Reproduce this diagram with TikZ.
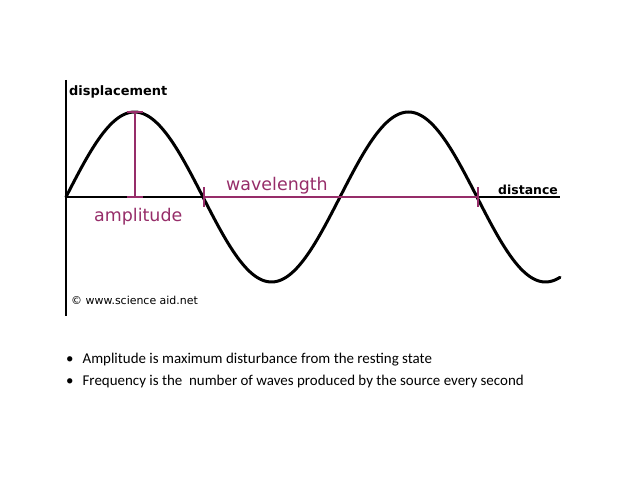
\documentclass[tikz,border=0pt]{standalone}
\usepackage{fontspec}
\setmainfont{Carlito}
\newfontfamily\lab{DejaVu Sans}
\begin{document}
\begin{tikzpicture}[x=1bp,y=-1bp,
  axis/.style={line width=2.2bp,black},
  wave/.style={line width=3bp,black},
  purp/.style={line width=2bp,color=mag},
  tick/.style={line width=2bp,color=mag},
  lbl/.style={inner sep=0,anchor=west,font=\lab}]
\definecolor{mag}{RGB}{150,45,105}
\useasboundingbox (0,0) rectangle (638,478);
\coordinate (o) at (66,197);
\coordinate (ytop) at (66,80);
\coordinate (ybot) at (66,316);
\coordinate (xend) at (560,197);
\draw[axis] (ytop) -- (ybot);
\draw[axis] (o) -- (xend);
\draw[wave,domain=0:494,samples=200,smooth,line cap=round] plot ({66+\x},{197-85*sin(1.31387*\x)});
% amplitude
\coordinate (a1) at (135,112);
\coordinate (a2) at (135,197);
\draw[purp] (a1) -- (a2);
\draw[tick] ([xshift=-8]a1) -- ([xshift=8]a1);
\draw[tick] ([xshift=-8]a2) -- ([xshift=8]a2);
% wavelength
\coordinate (w1) at (204,197);
\coordinate (w2) at (478,197);
\draw[purp] (w1) -- (w2);
\draw[tick] ([yshift=-10]w1) -- ([yshift=10]w1);
\draw[tick] ([yshift=-10]w2) -- ([yshift=10]w2);
\node[lbl,font=\lab\bfseries\fontsize{13}{15}\selectfont] (disp) at (69,92) {displacement};
\node[lbl,font=\lab\fontsize{17.5}{19}\selectfont,text=mag] (amp) at (94,217) {amplitude};
\node[lbl,font=\lab\fontsize{17.5}{19}\selectfont,text=mag] (wl) at (226,186) {wavelength};
\node[lbl,font=\lab\bfseries\fontsize{12.5}{15}\selectfont] (dist) at (498,190) {distance};
\node[lbl,font=\lab\fontsize{11}{13}\selectfont] (copy) at (71,300) {© www.science aid.net};
\node[anchor=west,inner sep=0,font=\fontsize{15}{18}\selectfont] (b1) at (66,360) {•\hspace{9bp}Amplitude is maximum disturbance from the resting state};
\node[anchor=west,inner sep=0,font=\fontsize{15}{18}\selectfont] (b2) at (66,382) {•\hspace{9bp}Frequency is the\ \ number of waves produced by the source every second};
\end{tikzpicture}
\end{document}
